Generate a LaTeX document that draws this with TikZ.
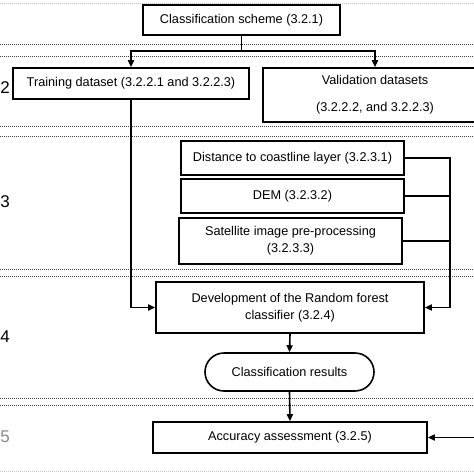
\documentclass[tikz,border=0pt]{standalone}
\usepackage{fontspec}
\setmainfont{Liberation Sans}
\usetikzlibrary{arrows.meta}
\begin{document}
\begin{tikzpicture}[x=1pt,y=-1pt,
  box/.style={draw=black,line width=1.6pt,inner sep=0pt,align=center,font=\fontsize{12.7}{17}\selectfont},
  term/.style={box,rounded corners=19pt},
  conn/.style={line width=1.6pt},
  arr/.style={conn,-{Triangle[length=7pt,width=6pt]}},
  sep/.style={line width=0.9pt,dash pattern=on 1pt off 1pt,draw=black!75},
  faint/.style={line width=0.9pt,dash pattern=on 1pt off 1pt,draw=black!25},
  lvl/.style={inner sep=0pt,font=\fontsize{17}{19}\selectfont}]
\useasboundingbox (0,0) rectangle (474,474);
\fill[white] (0,0) rectangle (474,474);
% separators
\foreach \yy in {44,56,126,136,269,276,398,405} \draw[sep] (0,\yy) -- (474,\yy);
\foreach \yy in {3,471} \draw[faint] (0,\yy) -- (474,\yy);
% level labels
\node[lvl] (l2) at (5,88) {2};
\node[lvl] (l3) at (5,202) {3};
\node[lvl] (l4) at (5,337) {4};
\node[lvl,text=black!45] (l5) at (5,437) {5};
% nodes
\node[box,minimum width=197pt,minimum height=30pt] (cs) at (241.5,20) {Classification scheme (3.2.1)};
\node[box,minimum width=236pt,minimum height=31pt] (train) at (131,83.5) {Training dataset (3.2.2.1 and 3.2.2.3)};
\node[box,minimum width=224pt,minimum height=54pt] (valid) at (375,95) {Validation datasets\\[10pt](3.2.2.2, and 3.2.2.3)};
\node[box,minimum width=223pt,minimum height=34pt] (dist) at (292.5,158) {Distance to coastline layer (3.2.3.1)};
\node[box,minimum width=223pt,minimum height=34pt] (dem) at (292.5,196) {DEM (3.2.3.2)};
\node[box,minimum width=223pt,minimum height=46pt] (sat) at (290.5,241) {Satellite image pre-processing\\(3.2.3.3)};
\node[box,minimum width=268pt,minimum height=51pt] (dev) at (290,307.5) {Development of the Random forest\\classifier (3.2.4)};
\node[term,minimum width=169pt,minimum height=38pt] (res) at (289.5,372) {Classification results};
\node[box,minimum width=274pt,minimum height=31pt] (acc) at (290,437.5) {Accuracy assessment (3.2.5)};
% connectors
\coordinate (j) at (241.5,51);
\coordinate (rx) at (450,0);
\coordinate (ain) at (480,437.5);
\draw[conn] (cs.south) -- (j);
\draw[arr] (j) -| (train.north);
\draw[arr] (j) -| (valid.north);
\draw[arr] (train.south) |- (dev.west);
\draw[arr] (dist.east) -- (dist.east -| rx) |- (dev.east);
\draw[conn] (dem.east) -- (dem.east -| rx);
\draw[conn] (sat.east) -- (sat.east -| rx);
\draw[arr] (dev.south) -- (res.north);
\draw[arr] (res.south) -- (acc.north);
\draw[arr] (ain) -- (acc.east);
\end{tikzpicture}
\end{document}
